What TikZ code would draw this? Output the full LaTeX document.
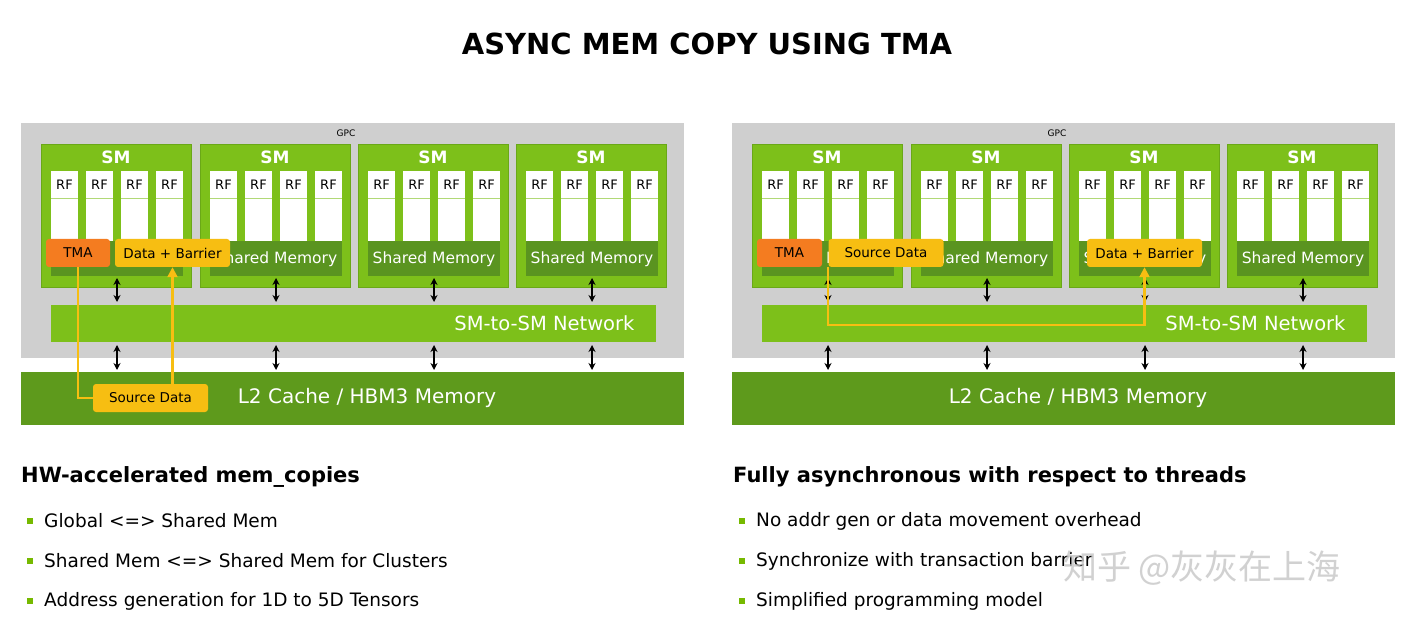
\documentclass[tikz,border=0pt]{standalone}
\usepackage{fontspec}
\setmainfont{DejaVu Sans}
\newfontfamily\cjk{Noto Sans CJK SC}
\usetikzlibrary{arrows.meta}
\definecolor{lg}{HTML}{7DC01A}
\definecolor{lgb}{HTML}{6AA817}
\definecolor{dg}{HTML}{5E9A1C}
\definecolor{smg}{HTML}{5A9420}
\definecolor{gpc}{HTML}{CFCFCF}
\definecolor{ylw}{HTML}{F7BE12}
\definecolor{org}{HTML}{F47C20}
\definecolor{bul}{HTML}{76B900}
\begin{document}
\begin{tikzpicture}[x=1pt,y=-1pt,
  sm/.style={fill=lg,draw=lgb,line width=1pt},
  rf/.style={fill=white,draw=none},
  shm/.style={fill=smg,draw=none,text=white,font=\fontsize{15.5}{15.5}\selectfont},
  dar/.style={{Stealth[length=7pt,width=7pt]}-{Stealth[length=7pt,width=7pt]},line width=1.6pt,black},
  tag/.style={rounded corners=3pt,minimum height=28pt,inner sep=0pt,font=\fontsize{13.5}{13.5}\selectfont,text=black},
  ypath/.style={draw=ylw,line width=2.2pt},
  head/.style={anchor=west,inner sep=0pt,font=\bfseries\fontsize{21}{21}\selectfont},
  item/.style={anchor=west,inner sep=0pt,font=\fontsize{18.5}{18.5}\selectfont},
  bsq/.style={fill=bul,minimum size=6pt,inner sep=0pt}]
\useasboundingbox (0,0) rectangle (1410,628);
\fill[white] (0,0) rectangle (1410,628);
\node[font=\bfseries\fontsize{29}{29}\selectfont] (title) at (707,44) {ASYNC MEM COPY USING TMA};

\foreach \p/\ox in {L/0,R/711}{
  \begin{scope}[xshift=\ox]
  \fill[gpc] (21,123) rectangle (684,358);
  \node[font=\fontsize{9}{9}\selectfont] (gpc\p) at (346,133) {GPC};
  \foreach \i/\sx in {1/41,2/200,3/358,4/516}{
    \draw[sm] (\sx,145) rectangle ++(150,142);
    \node[text=white,font=\bfseries\fontsize{17}{17}\selectfont] (sm\p\i) at (\sx+75,157) {SM};
    \foreach \j in {0,1,2,3}{
      \fill[rf] (\sx+10+\j*35,171) rectangle ++(27,70);
      \draw[lg!60,line width=0.6pt] (\sx+10+\j*35,198) -- ++(27,0);
      \node[font=\fontsize{13}{13}\selectfont] (rf\p\i\j) at (\sx+23.5+\j*35,185) {RF};
    }
    \node[shm,minimum width=132pt,minimum height=35pt,inner sep=0pt] (shm\p\i) at (\sx+76,259) {Shared Memory};
    \draw[dar] (\sx+76,278) -- (\sx+76,302);
    \draw[dar] (\sx+76,345) -- (\sx+76,370);
  }
  \node[fill=lg,minimum width=605pt,minimum height=37pt,inner sep=0pt] (net\p) at (353.5,323.5) {};
  \node[anchor=east,text=white,font=\fontsize{19.5}{19.5}\selectfont] (nett\p) at (638,323) {SM-to-SM Network};
  \node[fill=dg,minimum width=663pt,minimum height=53pt,inner sep=0pt] (l2\p) at (352.5,398.5) {};
  \node[text=white,font=\fontsize{20}{20}\selectfont] (l2t\p) at (367,398) {L2 Cache / HBM3 Memory};
  \end{scope}
}

% left panel tags
\node[tag,fill=org,minimum width=64pt] (tmaL) at (78,253) {TMA};
\node[tag,fill=ylw,minimum width=115pt] (dbL) at (172.5,253) {Data + Barrier};
\node[tag,fill=ylw,minimum width=115pt] (srcL) at (150.5,398) {Source Data};
\draw[ypath] (tmaL.south) |- (srcL.west);
\draw[ypath,-{Triangle[length=10pt,width=10pt]}] (srcL.north -| dbL.south) -- (dbL.south);

% right panel tags
\node[tag,fill=ylw,minimum width=115pt] (dbR) at (1144.5,253) {Data + Barrier};
\node[tag,fill=org,minimum width=65pt] (tmaR) at (789.5,253) {TMA};
\node[tag,fill=ylw,minimum width=115pt] (srcR) at (886,253) {Source Data};
\coordinate (cR1) at (828,325);
\draw[ypath,-{Triangle[length=10pt,width=10pt]}] (srcR.south west -| cR1) |- (cR1) -| (dbR.south);

% text
\node[head] (h1) at (21,477) {HW-accelerated mem\_copies};
\node[head] (h2) at (733,477) {Fully asynchronous with respect to threads};
\foreach \t [count=\k] in {Global <=> Shared Mem,Shared Mem <=> Shared Mem for Clusters,Address generation for 1D to 5D Tensors}{
  \node[bsq] (bl\k) at (30,521+40*\k-40) {};
  \node[item] (tl\k) at (44,521+40*\k-40) {\t};
}
\foreach \t [count=\k] in {No addr gen or data movement overhead,Synchronize with transaction barrier,Simplified programming model}{
  \node[bsq] (br\k) at (742,521+40*\k-40) {};
  \node[item] (tr\k) at (756,521+40*\k-40) {\t};
}
\node[text=gray!45,opacity=0.8,font=\cjk\fontsize{34}{34}\selectfont] (wm) at (1202,568) {知乎 @灰灰在上海};
\end{tikzpicture}
\end{document}
